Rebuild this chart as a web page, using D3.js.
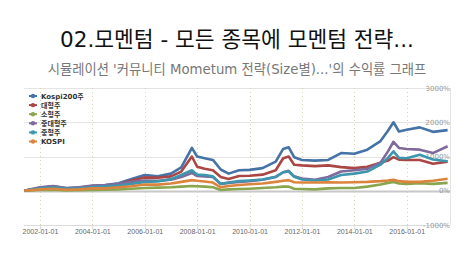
<!DOCTYPE html>
<html>
<head>
<meta charset="utf-8">
<script src="https://cdn.jsdelivr.net/npm/d3@7"></script>
<style>
  body { margin: 0; background: #fff; }
  svg { display: block; font-family: "DejaVu Sans", "Noto Sans CJK KR", sans-serif; }
</style>
</head>
<body>
<div id="chart"></div>
<script>
const title = "02.모멘텀 - 모든 종목에 모멘텀 전략...";
const subtitle = "시뮬레이션 '커뮤니티 Mometum 전략(Size별)...'의 수익률 그래프";

const dates = [
  "2001-05-25", "2002-01-01", "2002-07-01", "2003-01-01", "2003-07-01", "2004-01-01",
  "2004-07-01", "2005-01-01", "2005-07-01", "2006-01-01", "2006-07-01", "2007-01-01",
  "2007-05-25", "2007-10-20", "2008-01-01", "2008-04-15", "2008-08-08", "2008-11-25",
  "2009-03-15", "2009-08-08", "2010-01-01", "2010-07-01", "2011-01-01", "2011-04-15",
  "2011-07-01", "2011-09-15", "2012-01-01", "2012-07-01", "2013-01-01", "2013-07-01",
  "2014-01-01", "2014-07-01", "2015-01-01", "2015-04-15", "2015-07-01", "2015-09-15",
  "2016-01-01", "2016-07-01", "2017-01-01", "2017-07-25"
];

const seriesNames = ["Kospi200주", "대형주", "소형주", "중대형주", "중형주", "KOSPI"];
const seriesColors = ["#4572A7", "#AA4643", "#89A54E", "#80699B", "#3D96AE", "#DB843D"];

const kospi200 = [0, 90, 130, 70, 90, 140, 170, 220, 340, 460, 420, 500,
  680, 1250, 1000, 950, 900, 620, 500, 600, 610, 660, 850, 1220,
  1270, 980, 900, 880, 900, 1100, 1080, 1200, 1450, 1750, 2000, 1730,
  1780, 1850, 1720, 1770];
const largeCap = [0, 60, 90, 50, 70, 110, 140, 190, 300, 390, 380, 420,
  560, 1000, 700, 640, 600, 400, 340, 430, 440, 470, 600, 950,
  1000, 760, 740, 720, 740, 690, 660, 700, 820, 880, 980, 910,
  900, 900, 790, 850];
const smallCap = [0, 20, 30, 10, 15, 25, 30, 40, 60, 80, 90, 100,
  120, 140, 130, 120, 100, 20, 40, 50, 60, 80, 100, 120,
  120, 60, 50, 40, 70, 80, 80, 120, 180, 230, 255, 210,
  200, 220, 200, 230];
const midLargeCap = [0, 100, 140, 80, 100, 150, 170, 200, 260, 300, 290, 320,
  400, 520, 430, 420, 400, 200, 230, 260, 280, 320, 400, 540,
  580, 420, 360, 320, 400, 560, 600, 640, 820, 1150, 1430, 1250,
  1220, 1200, 1100, 1300];
const midCap = [0, 70, 100, 60, 70, 110, 130, 150, 200, 260, 270, 340,
  460, 600, 470, 460, 420, 200, 240, 280, 300, 330, 410, 540,
  560, 410, 330, 300, 330, 460, 500, 560, 760, 960, 1150, 960,
  950, 1050, 910, 860];
const kospi = [0, 40, 60, 30, 40, 70, 70, 100, 130, 180, 180, 210,
  260, 310, 290, 270, 240, 100, 140, 170, 190, 210, 260, 290,
  310, 250, 240, 240, 250, 240, 250, 260, 280, 300, 320, 280,
  260, 260, 290, 350];

const seriesValues = [kospi200, largeCap, smallCap, midLargeCap, midCap, kospi];

const yTicks = [-1000, 0, 1000, 2000, 3000];
const xTicks = ["2002-01-01", "2004-01-01", "2006-01-01", "2008-01-01",
  "2010-01-01", "2012-01-01", "2014-01-01", "2016-01-01"];

const width = 474, height = 272;
const plot = { left: 24, right: 450, top: 88, bottom: 225 };
const parse = d3.timeParse("%Y-%m-%d");

const svg = d3.select("#chart").append("svg")
  .attr("width", width)
  .attr("height", height);

const x = d3.scaleTime()
  .domain([parse("2001-05-23"), parse("2017-08-27")])
  .range([plot.left, plot.right]);

const y = d3.scaleLinear()
  .domain([-1000, 3000])
  .range([plot.bottom, plot.top]);

// title + subtitle
svg.append("text")
  .attr("x", width / 2)
  .attr("y", 47)
  .attr("text-anchor", "middle")
  .attr("font-size", "21.5px")
  .attr("fill", "#111")
  .text(title);

svg.append("text")
  .attr("x", width / 2)
  .attr("y", 74)
  .attr("text-anchor", "middle")
  .attr("font-size", "13.3px")
  .attr("fill", "#777")
  .text(subtitle);

// horizontal grid
svg.append("g")
  .selectAll("line")
  .data(yTicks)
  .join("line")
  .attr("x1", plot.left)
  .attr("x2", plot.right)
  .attr("y1", d => Math.round(y(d)) + 0.5)
  .attr("y2", d => Math.round(y(d)) + 0.5)
  .attr("stroke", d => d === 0 ? "#c8c8c8" : "#e4e4e4")
  .attr("stroke-width", d => d === 0 ? 2 : 1);

// vertical dotted grid
svg.append("g")
  .selectAll("line")
  .data(xTicks)
  .join("line")
  .attr("x1", d => Math.round(x(parse(d))) + 0.5)
  .attr("x2", d => Math.round(x(parse(d))) + 0.5)
  .attr("y1", plot.top)
  .attr("y2", plot.bottom + 4)
  .attr("stroke", "#d8d2b0")
  .attr("stroke-dasharray", "1,3");

// right border
svg.append("line")
  .attr("x1", plot.right + 0.5).attr("x2", plot.right + 0.5)
  .attr("y1", plot.top).attr("y2", plot.bottom)
  .attr("stroke", "#e4e4e4");

// x axis
const xAxis = svg.append("g")
  .attr("transform", `translate(0, ${Math.round(plot.bottom) + 0.5})`)
  .call(d3.axisBottom(x)
    .tickValues(xTicks.map(parse))
    .tickFormat(d3.timeFormat("%Y-%m-%d"))
    .tickSize(4)
    .tickSizeOuter(0));
xAxis.select(".domain").attr("stroke", "#dcdcdc").attr("d", `M${plot.left},0H${plot.right}`);
xAxis.selectAll(".tick line").attr("stroke", "#dcdcdc");
xAxis.selectAll("text")
  .attr("fill", "#666")
  .attr("font-size", "7px")
  .attr("y", 4)
  .attr("dy", "0.71em");

// y labels (inside, right aligned)
svg.append("g")
  .selectAll("text")
  .data(yTicks)
  .join("text")
  .attr("x", plot.right)
  .attr("y", d => y(d) + 2.5)
  .attr("text-anchor", "end")
  .attr("font-size", "7px")
  .attr("fill", "#999")
  .text(d => d + "%");

// lines
const line = d3.line()
  .x((d, i) => x(parse(dates[i])))
  .y(d => y(d));

svg.append("g")
  .selectAll("path")
  .data(seriesValues)
  .join("path")
  .attr("fill", "none")
  .attr("stroke", (d, i) => seriesColors[i])
  .attr("stroke-width", 2.6)
  .attr("stroke-linejoin", "round")
  .attr("d", line);

// legend
const legend = svg.append("g")
  .attr("transform", "translate(29, 96)");

seriesNames.forEach((name, i) => {
  const row = legend.append("g")
    .attr("transform", `translate(0, ${i * 9.1})`);
  row.append("line")
    .attr("x1", 0).attr("x2", 8)
    .attr("stroke", seriesColors[i])
    .attr("stroke-width", 2);
  row.append("circle")
    .attr("cx", 4).attr("r", 2.2)
    .attr("fill", seriesColors[i]);
  row.append("text")
    .attr("x", 12)
    .attr("y", 2.6)
    .attr("font-size", "7px")
    .attr("font-weight", "bold")
    .attr("fill", "#333")
    .text(name);
});
</script>
</body>
</html>
